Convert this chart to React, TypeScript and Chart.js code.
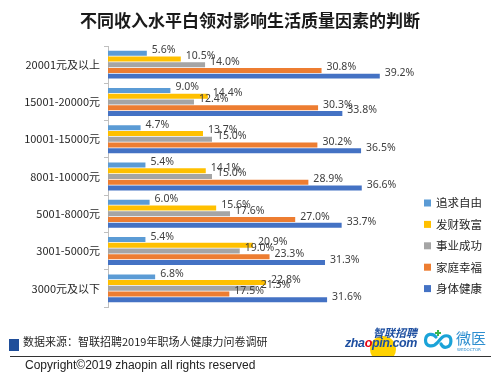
import React, { useEffect, useRef } from "react";
import { Chart, registerables } from "chart.js";

Chart.register(...registerables);

const categories = [
  "20001元及以上",
  "15001-20000元",
  "10001-15000元",
  "8001-10000元",
  "5001-8000元",
  "3001-5000元",
  "3000元及以下",
];
const seriesNames = ["追求自由", "发财致富", "事业成功", "家庭幸福", "身体健康"];
const freedom = [5.6, 9.0, 4.7, 5.4, 6.0, 5.4, 6.8];
const wealth = [10.5, 14.4, 13.7, 14.1, 15.6, 20.9, 22.8];
const career = [14.0, 12.4, 15.0, 15.0, 17.6, 19.0, 21.3];
const family = [30.8, 30.3, 30.2, 28.9, 27.0, 23.3, 17.5];
const health = [39.2, 33.8, 36.5, 36.6, 33.7, 31.3, 31.6];
const seriesValues = [freedom, wealth, career, family, health];
const seriesColors = ["#5B9BD5", "#FFC000", "#A5A5A5", "#ED7D31", "#4472C4"];

const CJK = '"Noto Sans CJK SC", "Noto Sans", sans-serif';

const labelPlugin = {
  id: "valueLabels",
  afterDatasetsDraw(chart: any) {
    const ctx = chart.ctx;
    ctx.save();
    ctx.font = '10.5px "Noto Sans", sans-serif';
    ctx.fillStyle = "#404040";
    ctx.textBaseline = "middle";
    ctx.textAlign = "left";
    chart.data.datasets.forEach((ds: any, di: number) => {
      const meta = chart.getDatasetMeta(di);
      meta.data.forEach((el: any, i: number) => {
        const v = ds.data[i] as number;
        ctx.fillText(v.toFixed(1) + "%", el.x + 5, el.y - 3);
      });
    });
    ctx.restore();
  },
};

const legendPlugin = {
  id: "sideLegend",
  afterDraw(chart: any) {
    const ctx = chart.ctx;
    const area = chart.chartArea;
    ctx.save();
    ctx.font = "11.5px " + CJK;
    ctx.textBaseline = "middle";
    ctx.textAlign = "left";
    const x0 = area.right + 4;
    const y0 = 203;
    chart.data.datasets.forEach((ds: any, i: number) => {
      const y = y0 + i * 21.4;
      ctx.fillStyle = ds.backgroundColor;
      ctx.fillRect(x0, y - 3.5, 7, 7);
      ctx.fillStyle = "#262626";
      ctx.fillText(ds.label, x0 + 12, y);
    });
    ctx.restore();
  },
};

export default function App() {
  const ref = useRef<HTMLCanvasElement | null>(null);
  useEffect(() => {
    if (!ref.current) return;
    const chart = new Chart(ref.current, {
      type: "bar",
      data: {
        labels: categories,
        datasets: seriesNames.map((name, i) => ({
          label: name,
          data: seriesValues[i],
          backgroundColor: seriesColors[i],
          borderWidth: 0,
          categoryPercentage: 0.77,
          barPercentage: 0.87,
        })),
      },
      options: {
        indexAxis: "y",
        animation: false,
        responsive: false,
        maintainAspectRatio: false,
        layout: { padding: { left: 0, top: 46, bottom: 78, right: 80 } },
        plugins: {
          legend: { display: false },
          title: { display: false },
          tooltip: { enabled: false },
        },
        scales: {
          x: { display: false, min: 0, max: 45 },
          y: {
            afterFit(scale: any) {
              scale.width = 108;
            },
            grid: {
              display: true,
              drawOnChartArea: false,
              drawTicks: true,
              tickLength: 4,
              color: "#bfbfbf",
              offset: true,
            },
            border: { display: true, color: "#bfbfbf" },
            ticks: {
              padding: 4,
              color: "#262626",
              font: { size: 11, family: CJK },
            },
          },
        },
      },
      plugins: [labelPlugin, legendPlugin],
    } as any);
    return () => chart.destroy();
  }, []);

  return (
    <div
      style={{
        position: "fixed",
        left: 0,
        top: 0,
        width: 500,
        height: 385,
        background: "#fff",
        overflow: "hidden",
        fontFamily: CJK,
      }}
    >
      <canvas ref={ref} width={500} height={385} style={{ position: "absolute", left: 0, top: 0 }} />
      <div
        style={{
          position: "absolute",
          left: 0,
          top: 8,
          width: 500,
          textAlign: "center",
          fontSize: 17,
          fontWeight: 700,
          color: "#1a1a1a",
          lineHeight: "24px",
        }}
      >
        不同收入水平白领对影响生活质量因素的判断
      </div>
      <div style={{ position: "absolute", left: 9, top: 339, width: 10, height: 12, background: "#1F4E9A" }} />
      <div
        style={{
          position: "absolute",
          left: 23,
          top: 333,
          fontSize: 11,
          lineHeight: "16px",
          color: "#262626",
          whiteSpace: "nowrap",
        }}
      >
        数据来源：智联招聘2019年职场人健康力问卷调研
      </div>
      {/* zhaopin logo: yellow disc clipped at the rule */}
      <div style={{ position: "absolute", left: 370, top: 336, width: 26, height: 20, overflow: "hidden" }}>
        <div style={{ width: 26, height: 26, borderRadius: 13, background: "#FFD200" }} />
      </div>
      <div style={{ position: "absolute", left: 10, top: 356, width: 481, height: 1, background: "#333" }} />
      <div
        style={{
          position: "absolute",
          left: 25,
          top: 357,
          fontSize: 12,
          lineHeight: "16px",
          color: "#222",
          whiteSpace: "nowrap",
          fontFamily: '"Liberation Sans", sans-serif',
        }}
      >
        Copyright©2019 zhaopin all rights reserved
      </div>
      <div
        style={{
          position: "absolute",
          left: 373,
          top: 326,
          fontSize: 11,
          lineHeight: "13px",
          fontWeight: 700,
          fontStyle: "italic",
          color: "#1E4FA0",
          whiteSpace: "nowrap",
        }}
      >
        智联招聘
      </div>
      <div
        style={{
          position: "absolute",
          left: 345,
          top: 336,
          fontSize: 12.5,
          lineHeight: "15px",
          fontWeight: 700,
          fontStyle: "italic",
          color: "#1E4FA0",
          whiteSpace: "nowrap",
          fontFamily: '"Liberation Sans", sans-serif',
          letterSpacing: -0.4,
        }}
      >
        zha<span style={{ color: "#E60012" }}>o</span>pin.com
      </div>
      {/* wedoctor logo */}
      <svg
        width={32}
        height={24}
        viewBox="0 0 32 24"
        style={{ position: "absolute", left: 422, top: 329 }}
      >
        <path
          d="M14 8 C11 4 4 4 3.5 11 C3.5 18 11 19 16 13 C20 8 22 6 26 7 C30 8 30 17 25 18 C22 19 20 17 19 15"
          fill="none"
          stroke="#1BA3D8"
          strokeWidth={3.2}
          strokeLinecap="round"
        />
        <path d="M16 1 V7 M13 4 H19" stroke="#3CB54A" strokeWidth={2} />
      </svg>
      <div
        style={{
          position: "absolute",
          left: 456,
          top: 329,
          fontSize: 15,
          lineHeight: "18px",
          color: "#2E8FD0",
          whiteSpace: "nowrap",
        }}
      >
        微医
      </div>
      <div
        style={{
          position: "absolute",
          left: 457,
          top: 347,
          fontSize: 4,
          lineHeight: "5px",
          color: "#2E8FD0",
          whiteSpace: "nowrap",
          fontFamily: '"DejaVu Sans", sans-serif',
        }}
      >
        WEDOCTOR
      </div>
    </div>
  );
}
